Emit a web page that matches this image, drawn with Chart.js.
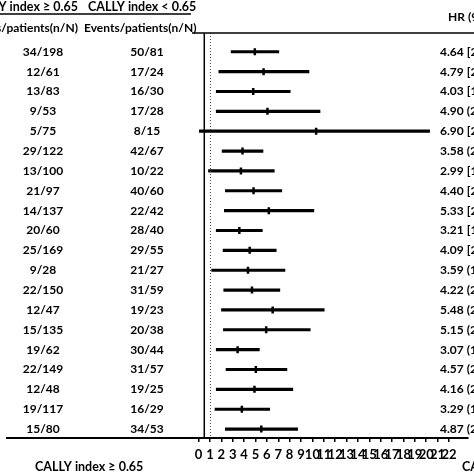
<!DOCTYPE html>
<html>
<head>
<meta charset="utf-8">
<script src="https://cdn.jsdelivr.net/npm/chart.js@4"></script>
<style>
  html, body { margin: 0; padding: 0; background: #fff; }
  #wrap { width: 474px; height: 474px; }
</style>
</head>
<body>
<div id="wrap"><canvas id="forest"></canvas></div>
<script>
const HIGH_EVENTS = ['34/198', '12/61', '13/83', '9/53', '5/75', '29/122', '13/100', '21/97', '14/137', '20/60',
    '25/169', '9/28', '22/150', '12/47', '15/135', '19/62', '22/149', '12/48', '19/117', '15/80'];
const LOW_EVENTS = ['50/81', '17/24', '16/30', '17/28', '8/15', '42/67', '10/22', '40/60', '22/42', '28/40',
    '29/55', '21/27', '31/59', '19/23', '20/38', '30/44', '31/57', '19/25', '16/29', '34/53'];
const HR_TEXT = ['4.64 [2', '4.79 [2', '4.03 [1', '4.90 (2', '6.90 [2', '3.58 (2', '2.99 [1', '4.40 [2', '5.33 [2', '3.21 [1',
    '4.09 [2', '3.59 (1.', '4.22 (2', '5.48 (2', '5.15 (2', '3.07 (1', '4.57 (2', '4.16 (2', '3.29 (1.', '4.87 (2'];
// as drawn in the plot
const HR_POINT = [4.94, 5.71, 4.80, 6.05, 10.33, 3.86, 3.72, 4.83, 6.17, 3.58, 4.49, 4.34, 4.69, 6.51, 5.94, 3.43, 5.03, 4.91, 3.80, 5.51];
const CI_LOW = [2.86, 1.78, 1.55, 1.55, 0.07, 2.07, 0.87, 2.35, 2.26, 1.55, 2.15, 1.15, 2.21, 2.01, 2.18, 1.55, 2.41, 1.55, 1.44, 2.35];
const CI_HIGH = [7.05, 9.70, 8.05, 10.67, 20.3, 5.66, 6.65, 7.31, 10.13, 5.60, 6.82, 7.59, 7.14, 11.04, 9.81, 5.34, 7.76, 8.28, 6.25, 8.70];
const X_TICKS = [0, 1, 2, 3, 4, 5, 6, 7, 8, 9, 10, 11, 12, 13, 14, 15, 16, 17, 18, 19, 20, 21, 22];
const REF_LINE = 1;

const FONT = 'Lato, "Open Sans", sans-serif';
const rows = HR_POINT.map((v, i) => i + 1);

const textPlugin = {
    id: 'forestText',
    afterDraw(chart) {
        const ctx = chart.ctx;
        const x = chart.scales.x, y = chart.scales.y;
        const top = 33, bottom = chart.chartArea.bottom;
        ctx.save();

        // solid axis line and dotted reference line
        ctx.strokeStyle = '#000';
        ctx.lineWidth = 1.5;
        ctx.beginPath();
        ctx.moveTo(x.getPixelForValue(0.5), top);
        ctx.lineTo(x.getPixelForValue(0.5), bottom);
        ctx.stroke();
        ctx.strokeStyle = '#444';
        ctx.lineWidth = 1;
        ctx.setLineDash([1, 2]);
        ctx.beginPath();
        ctx.moveTo(x.getPixelForValue(REF_LINE) + 0.5, top);
        ctx.lineTo(x.getPixelForValue(REF_LINE) + 0.5, bottom);
        ctx.stroke();
        ctx.setLineDash([]);

        // header rules
        ctx.strokeStyle = '#000';
        ctx.lineWidth = 1.5;
        ctx.beginPath();
        ctx.moveTo(0, 14); ctx.lineTo(191, 14);
        ctx.moveTo(192, 33); ctx.lineTo(474, 33);
        ctx.stroke();

        ctx.fillStyle = '#000';
        ctx.textBaseline = 'middle';
        ctx.font = 'bold 12.5px ' + FONT;
        ctx.textAlign = 'right';
        ctx.fillText('CALLY index \u2265 0.65', 78, 7);
        ctx.textAlign = 'left';
        ctx.fillText('CALLY index < 0.65', 88, 7);
        ctx.font = 'bold 12px ' + FONT;
        ctx.textAlign = 'right';
        ctx.fillText('Events/patients(n/N)', 78, 28);
        ctx.textAlign = 'left';
        ctx.fillText('Events/patients(n/N)', 84, 28);
        ctx.fillText('HR (95% CI)', 448, 17);

        rows.forEach((r, i) => {
            const py = y.getPixelForValue(r);
            ctx.textAlign = 'center';
            ctx.fillText(HIGH_EVENTS[i], 43, py);
            ctx.fillText(LOW_EVENTS[i], 147, py);
            ctx.textAlign = 'left';
            ctx.fillText(HR_TEXT[i], 440, py);
        });

        ctx.font = 'bold 12.5px ' + FONT;
        ctx.textAlign = 'left';
        ctx.fillText('CALLY index \u2265 0.65', 35, 467);
        ctx.fillText('CALLY index < 0.65', 462, 467);
        ctx.restore();
    }
};

new Chart(document.getElementById('forest'), {
    type: 'bar',
    data: {
        datasets: [
            {
                label: 'CI',
                data: rows.map((r, i) => ({ x: [CI_LOW[i], CI_HIGH[i]], y: r })),
                backgroundColor: '#000',
                borderWidth: 0,
                barThickness: 2.5,
                borderSkipped: false
            },
            {
                type: 'scatter',
                label: 'HR',
                data: rows.map((r, i) => ({ x: HR_POINT[i], y: r })),
                pointStyle: 'line',
                rotation: 90,
                radius: 3.5,
                borderWidth: 2.5,
                borderColor: '#000',
                backgroundColor: '#000'
            }
        ]
    },
    options: {
        indexAxis: 'y',
        responsive: true,
        maintainAspectRatio: false,
        animation: false,
        layout: { padding: 0 },
        plugins: {
            legend: { display: false },
            tooltip: { enabled: false }
        },
        scales: {
            x: {
                type: 'linear',
                position: 'bottom',
                min: -16.88,
                max: 23.63,
                afterBuildTicks: (axis) => { axis.ticks = X_TICKS.map(v => ({ value: v })); },
                afterFit: (axis) => { axis.height = 36; },
                grid: { drawOnChartArea: false, drawTicks: true, tickLength: 4, color: '#000', lineWidth: 1.5 },
                border: { display: true, color: '#000', width: 2 },
                ticks: {
                    autoSkip: false,
                    maxRotation: 0,
                    padding: 5,
                    color: '#000',
                    font: { family: FONT, size: 13, weight: 'bold' }
                }
            },
            y: {
                type: 'linear',
                reverse: true,
                offset: false,
                min: -1.28,
                max: 20.45,
                display: false
            }
        }
    },
    plugins: [textPlugin]
});
</script>
</body>
</html>
